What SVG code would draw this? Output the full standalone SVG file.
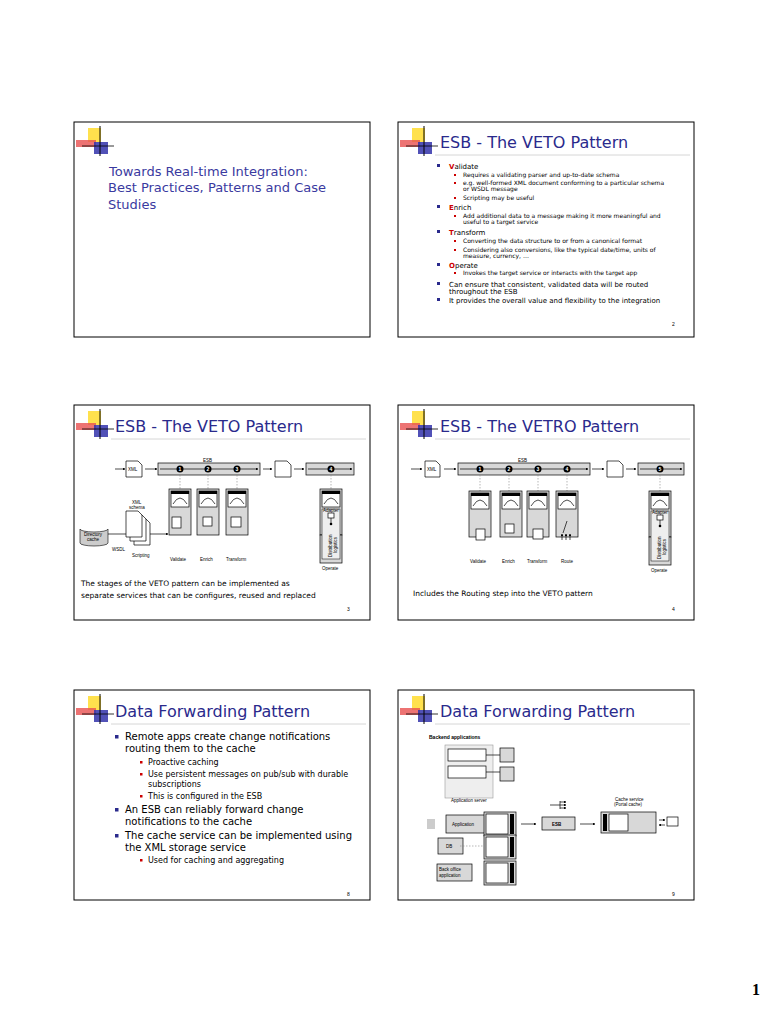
<svg xmlns="http://www.w3.org/2000/svg" width="768" height="1024" viewBox="0 0 768 1024">
<defs>
<style>
.sl{fill:#fff;stroke:#000;stroke-width:1}
.tt{font-family:"DejaVu Sans",sans-serif;font-size:16px;fill:#2a2a8c}
.t1{font-family:"DejaVu Sans",sans-serif;font-size:7px;fill:#000}
.t2{font-family:"DejaVu Sans",sans-serif;font-size:6px;fill:#000}
.b1{font-family:"DejaVu Sans",sans-serif;font-size:10px;fill:#000}
.b2{font-family:"DejaVu Sans",sans-serif;font-size:8px;fill:#000}
.sm{font-family:"Liberation Sans",sans-serif;font-size:4.5px;fill:#000}
.pn{font-family:"Liberation Sans",sans-serif;font-size:5px;fill:#000}
.nm{font-family:"Liberation Sans",sans-serif;font-size:5px;fill:#fff;font-weight:bold;text-anchor:middle}
.bx{fill:#d8d8d8;stroke:#000;stroke-width:0.7}
.wb{fill:#fff;stroke:#000;stroke-width:0.7}
.ln{stroke:#000;stroke-width:0.7;fill:none}
.dt{stroke:#888;stroke-width:0.6;stroke-dasharray:1.5 1.5}
.bu{fill:#2a2a8c}
.br{fill:#cc0000}
</style>
<g id="logo">
<rect x="14" y="6" width="13" height="14" fill="#ffe14d"/>
<rect x="2" y="18" width="20" height="7" fill="#e85050" opacity="0.8"/>
<rect x="20" y="20" width="14" height="12" fill="#3333aa" opacity="0.85"/>
<line x1="26" y1="4" x2="26" y2="34" stroke="#000" stroke-width="1"/>
<line x1="8" y1="24" x2="40" y2="24" stroke="#000" stroke-width="0.8"/>
</g>
<g id="svc">
<rect x="0" y="0" width="22" height="46" class="bx"/>
<rect x="2" y="2" width="18" height="16" class="wb"/>
<rect x="2" y="2" width="18" height="3" fill="#000"/>
<path d="M4 15 Q11 3 18 15" class="ln"/>
</g>
<g id="opx">
<use href="#svc"/>
<rect x="0" y="46" width="22" height="28" class="bx"/>
<rect x="2" y="20" width="18" height="50" fill="#eee" stroke="#000" stroke-width="0.5"/>
<rect x="8" y="24" width="6" height="5" class="wb"/>
<line x1="11" y1="29" x2="11" y2="34" class="ln"/><circle cx="11" cy="35" r="1.3"/>
<text x="3" y="23" class="sm" font-size="3">Adapter</text>
<text transform="translate(12,68) rotate(-90)" class="sm" font-size="3.5">Distribution</text>
<text transform="translate(17,64) rotate(-90)" class="sm" font-size="3.5">logistics</text>
</g>
<marker id="ar" viewBox="0 0 6 6" refX="5" refY="3" markerWidth="4" markerHeight="4" orient="auto"><path d="M0 0 L6 3 L0 6z" fill="#000"/></marker>
</defs>
<rect width="768" height="1024" fill="#fff"/>

<g id="slide1">
<rect x="74" y="122" width="296" height="215" class="sl"/>
<use href="#logo" x="74" y="122"/>
<text x="109" y="176" font-family="DejaVu Sans,sans-serif" font-size="13" fill="#3a3aa0">Towards Real-time Integration:</text>
<text x="108" y="192" font-family="DejaVu Sans,sans-serif" font-size="13" fill="#3a3aa0">Best Practices, Patterns and Case</text>
<text x="108" y="209" font-family="DejaVu Sans,sans-serif" font-size="13" fill="#3a3aa0">Studies</text>
</g>

<g id="slide2">
<rect x="398" y="122" width="296" height="215" class="sl"/>
<use href="#logo" x="398" y="122"/>
<text x="440" y="148" class="tt">ESB - The VETO Pattern</text>
<line x1="435" y1="155" x2="690" y2="155" stroke="#ccc" stroke-width="0.8"/>
<g class="t1">
<rect x="437" y="164" width="3" height="3" class="bu"/><text x="449" y="169"><tspan fill="#c00" font-weight="bold">V</tspan>alidate</text>
<rect x="437" y="205" width="3" height="3" class="bu"/><text x="449" y="210"><tspan fill="#c00" font-weight="bold">E</tspan>nrich</text>
<rect x="437" y="230" width="3" height="3" class="bu"/><text x="449" y="235"><tspan fill="#c00" font-weight="bold">T</tspan>ransform</text>
<rect x="437" y="263" width="3" height="3" class="bu"/><text x="449" y="268"><tspan fill="#c00" font-weight="bold">O</tspan>perate</text>
<rect x="437" y="282" width="3" height="3" class="bu"/><text x="449" y="287">Can ensure that consistent, validated data will be routed</text>
<text x="449" y="294">throughout the ESB</text>
<rect x="437" y="298" width="3" height="3" class="bu"/><text x="449" y="303">It provides the overall value and flexibility to the integration</text>
</g>
<g class="t2">
<rect x="454" y="174" width="2" height="2" class="br"/><text x="463" y="177">Requires a validating parser and up-to-date schema</text>
<rect x="454" y="182" width="2" height="2" class="br"/><text x="463" y="185">e.g. well-formed XML document conforming to a particular schema</text>
<text x="463" y="191">or WSDL message</text>
<rect x="454" y="197" width="2" height="2" class="br"/><text x="463" y="200">Scripting may be useful</text>
<rect x="454" y="215" width="2" height="2" class="br"/><text x="463" y="218">Add additional data to a message making it more meaningful and</text>
<text x="463" y="224">useful to a target service</text>
<rect x="454" y="240" width="2" height="2" class="br"/><text x="463" y="243">Converting the data structure to or from a canonical format</text>
<rect x="454" y="249" width="2" height="2" class="br"/><text x="463" y="252">Considering also conversions, like the typical date/time, units of</text>
<text x="463" y="258">measure, currency, …</text>
<rect x="454" y="272" width="2" height="2" class="br"/><text x="463" y="275">Invokes the target service or interacts with the target app</text>
</g>
<text x="672" y="326" class="pn">2</text>
</g>

<g id="slide3">
<rect x="74" y="405" width="296" height="215" class="sl"/>
<use href="#logo" x="74" y="405"/>
<text x="115" y="432" class="tt">ESB - The VETO Pattern</text>
<line x1="111" y1="439" x2="366" y2="439" stroke="#ccc" stroke-width="0.8"/>
<text x="203" y="462" class="sm">ESB</text>
<line x1="115" y1="469" x2="125" y2="469" class="ln" marker-end="url(#ar)"/>
<path d="M126 461 h12 l4 4 v12 h-16z" class="wb"/><text x="128" y="471" class="sm">XML</text>
<line x1="145" y1="469" x2="157" y2="469" class="ln" marker-end="url(#ar)"/>
<rect x="158" y="463" width="102" height="12" class="bx"/>
<line x1="160" y1="469" x2="258" y2="469" class="ln" marker-end="url(#ar)"/>
<circle cx="180" cy="469" r="3.5"/><circle cx="208" cy="469" r="3.5"/><circle cx="237" cy="469" r="3.5"/>
<text x="180" y="471" class="nm">1</text><text x="208" y="471" class="nm">2</text><text x="237" y="471" class="nm">3</text>
<line x1="263" y1="469" x2="272" y2="469" class="ln" marker-end="url(#ar)"/>
<path d="M275 461 h12 l4 4 v12 h-16z" class="wb"/>
<line x1="294" y1="469" x2="304" y2="469" class="ln" marker-end="url(#ar)"/>
<rect x="306" y="463" width="48" height="12" class="bx"/>
<line x1="308" y1="469" x2="352" y2="469" class="ln" marker-end="url(#ar)"/>
<circle cx="331" cy="469" r="3.5"/><text x="331" y="471" class="nm">4</text>
<line x1="180" y1="475" x2="180" y2="489" class="dt"/><line x1="208" y1="475" x2="208" y2="489" class="dt"/><line x1="237" y1="475" x2="237" y2="489" class="dt"/><line x1="331" y1="475" x2="331" y2="489" class="dt"/>
<use href="#svc" x="169" y="489"/><use href="#svc" x="197" y="489"/><use href="#svc" x="226" y="489"/>
<use href="#opx" x="320" y="489"/>
<rect x="172" y="517" width="9" height="11" class="wb"/><rect x="203" y="517" width="9" height="9" class="wb"/><rect x="231" y="517" width="10" height="10" class="wb"/>
<text x="170" y="561" class="sm">Validate</text><text x="200" y="561" class="sm">Enrich</text><text x="226" y="561" class="sm">Transform</text><text x="322" y="570" class="sm">Operate</text>
<path d="M80 529 a14 3 0 0 0 28 0 v14 a14 3 0 0 1 -28 0z" fill="#ccc" stroke="#000" stroke-width="0.6"/>
<text x="84" y="536" class="sm" font-size="4">Directory</text><text x="87" y="541" class="sm" font-size="4">cache</text>
<line x1="108" y1="534" x2="126" y2="534" class="ln"/>
<path d="M134 519 h12 l4 4 v22 h-16z" class="wb"/><path d="M130 515 h12 l4 4 v22 h-16z" class="wb"/><path d="M126 511 h12 l4 4 v22 h-16z" class="wb"/>
<line x1="150" y1="534" x2="168" y2="534" class="ln" marker-end="url(#ar)"/>
<text x="132" y="504" class="sm">XML</text><text x="129" y="509" class="sm">schema</text>
<text x="112" y="551" class="sm">WSDL</text><text x="132" y="557" class="sm">Scripting</text>
<text x="81" y="586" font-family="DejaVu Sans,sans-serif" font-size="7.5">The stages of the VETO pattern can be implemented as</text>
<text x="81" y="598" font-family="DejaVu Sans,sans-serif" font-size="7.5">separate services that can be configures, reused and replaced</text>
<text x="347" y="611" class="pn">3</text>
</g>

<g id="slide4">
<rect x="398" y="405" width="296" height="215" class="sl"/>
<use href="#logo" x="398" y="405"/>
<text x="440" y="432" class="tt">ESB - The VETRO Pattern</text>
<line x1="435" y1="439" x2="690" y2="439" stroke="#ccc" stroke-width="0.8"/>
<text x="518" y="462" class="sm">ESB</text>
<line x1="411" y1="469" x2="422" y2="469" class="ln" marker-end="url(#ar)"/>
<path d="M425 461 h11 l4 4 v12 h-15z" class="wb"/><text x="427" y="471" class="sm">XML</text>
<line x1="444" y1="469" x2="456" y2="469" class="ln" marker-end="url(#ar)"/>
<rect x="458" y="463" width="132" height="12" class="bx"/>
<line x1="460" y1="469" x2="588" y2="469" class="ln" marker-end="url(#ar)"/>
<circle cx="480" cy="469" r="3.5"/><circle cx="509" cy="469" r="3.5"/><circle cx="538" cy="469" r="3.5"/><circle cx="567" cy="469" r="3.5"/>
<text x="480" y="471" class="nm">1</text><text x="509" y="471" class="nm">2</text><text x="538" y="471" class="nm">3</text><text x="567" y="471" class="nm">4</text>
<line x1="592" y1="469" x2="604" y2="469" class="ln" marker-end="url(#ar)"/>
<path d="M607 461 h12 l4 4 v12 h-16z" class="wb"/>
<line x1="626" y1="469" x2="636" y2="469" class="ln" marker-end="url(#ar)"/>
<rect x="638" y="463" width="46" height="12" class="bx"/>
<line x1="640" y1="469" x2="682" y2="469" class="ln" marker-end="url(#ar)"/>
<circle cx="660" cy="469" r="3.5"/><text x="660" y="471" class="nm">5</text>
<line x1="480" y1="475" x2="480" y2="491" class="dt"/><line x1="509" y1="475" x2="509" y2="491" class="dt"/><line x1="538" y1="475" x2="538" y2="491" class="dt"/><line x1="567" y1="475" x2="567" y2="491" class="dt"/><line x1="660" y1="475" x2="660" y2="491" class="dt"/>
<use href="#svc" x="469" y="491"/><use href="#svc" x="500" y="491"/><use href="#svc" x="527" y="491"/><use href="#svc" x="556" y="491"/>
<use href="#opx" x="649" y="491"/>
<rect x="476" y="529" width="9" height="11" class="wb"/><rect x="505" y="524" width="9" height="9" class="wb"/><rect x="533" y="529" width="10" height="10" class="wb"/>
<line x1="567" y1="521" x2="563" y2="533" class="ln"/><line x1="562" y1="540" x2="562" y2="534" class="ln" marker-end="url(#ar)"/><line x1="566" y1="540" x2="566" y2="534" class="ln" marker-end="url(#ar)"/><line x1="570" y1="540" x2="570" y2="534" class="ln" marker-end="url(#ar)"/>
<text x="470" y="563" class="sm">Validate</text><text x="502" y="563" class="sm">Enrich</text><text x="527" y="563" class="sm">Transform</text><text x="561" y="563" class="sm">Route</text><text x="651" y="572" class="sm">Operate</text>
<text x="413" y="596" font-family="DejaVu Sans,sans-serif" font-size="7.5">Includes the Routing step into the VETO pattern</text>
<text x="672" y="611" class="pn">4</text>
</g>

<g id="slide5">
<rect x="74" y="690" width="296" height="210" class="sl"/>
<use href="#logo" x="74" y="690"/>
<text x="115" y="717" class="tt">Data Forwarding Pattern</text>
<line x1="111" y1="724" x2="366" y2="724" stroke="#ccc" stroke-width="0.8"/>
<g class="b1">
<rect x="115" y="735" width="3.5" height="3.5" class="bu"/><text x="125" y="740">Remote apps create change notifications</text>
<text x="125" y="752">routing them to the cache</text>
<rect x="115" y="808" width="3.5" height="3.5" class="bu"/><text x="125" y="813">An ESB can reliably forward change</text>
<text x="125" y="825">notifications to the cache</text>
<rect x="115" y="834" width="3.5" height="3.5" class="bu"/><text x="125" y="839">The cache service can be implemented using</text>
<text x="125" y="851">the XML storage service</text>
</g>
<g class="b2">
<rect x="140" y="761" width="2.5" height="2.5" class="br"/><text x="148" y="765">Proactive caching</text>
<rect x="140" y="773" width="2.5" height="2.5" class="br"/><text x="148" y="777">Use persistent messages on pub/sub with durable</text>
<text x="148" y="787">subscriptions</text>
<rect x="140" y="795" width="2.5" height="2.5" class="br"/><text x="148" y="799">This is configured in the ESB</text>
<rect x="140" y="859" width="2.5" height="2.5" class="br"/><text x="148" y="863">Used for caching and aggregating</text>
</g>
<text x="347" y="896" class="pn">8</text>
</g>

<g id="slide6">
<rect x="398" y="690" width="296" height="210" class="sl"/>
<use href="#logo" x="398" y="690"/>
<text x="440" y="717" class="tt">Data Forwarding Pattern</text>
<line x1="435" y1="724" x2="690" y2="724" stroke="#ccc" stroke-width="0.8"/>
<text x="429" y="739" font-family="Liberation Sans,sans-serif" font-size="5" font-weight="bold">Backend applications</text>
<rect x="445" y="745" width="48" height="53" fill="#eee" stroke="#999" stroke-width="0.6"/>
<rect x="448" y="749" width="38" height="12" class="wb"/><rect x="448" y="766" width="38" height="12" class="wb"/>
<line x1="486" y1="755" x2="500" y2="755" class="ln"/><line x1="486" y1="772" x2="500" y2="772" class="ln"/>
<rect x="500" y="748" width="14" height="14" class="bx"/><rect x="500" y="767" width="14" height="14" class="bx"/>
<text x="451" y="802" class="sm" font-size="3.5">Application server</text>
<rect x="427" y="819" width="8" height="10" fill="#ccc"/>
<rect x="446" y="815" width="40" height="18" class="bx"/><text x="452" y="826" class="sm">Application</text>
<rect x="484" y="812" width="32" height="24" class="bx"/><rect x="486" y="814" width="22" height="20" class="wb"/><rect x="510" y="814" width="4" height="20" fill="#000"/>
<line x1="521" y1="824" x2="536" y2="824" class="ln" marker-end="url(#ar)"/>
<rect x="542" y="817" width="33" height="13" class="bx"/><text x="552" y="826" class="sm" font-weight="bold">ESB</text>
<line x1="550" y1="805" x2="566" y2="805" class="ln" marker-end="url(#ar)"/><line x1="560" y1="802" x2="566" y2="802" class="ln" marker-end="url(#ar)"/><line x1="560" y1="808" x2="566" y2="808" class="ln" marker-end="url(#ar)"/><line x1="560" y1="801" x2="560" y2="809" class="ln"/>
<line x1="580" y1="824" x2="595" y2="824" class="ln" marker-end="url(#ar)"/>
<text x="615" y="801" class="sm" font-size="3.5">Cache service</text><text x="614" y="806" class="sm" font-size="3.5">(Portal cache)</text>
<rect x="601" y="812" width="55" height="21" class="bx"/><rect x="603" y="814" width="4" height="17" fill="#000"/><rect x="609" y="814" width="19" height="17" class="wb"/>
<line x1="659" y1="820" x2="665" y2="820" class="ln" marker-end="url(#ar)"/><line x1="665" y1="825" x2="659" y2="825" class="ln" marker-end="url(#ar)"/>
<rect x="667" y="817" width="11" height="9" class="wb"/>
<rect x="438" y="838" width="25" height="16" class="bx"/><text x="446" y="848" class="sm">DB</text>
<line x1="460" y1="846" x2="485" y2="846" class="dt" stroke="#000"/>
<rect x="484" y="835" width="32" height="24" class="bx"/><rect x="486" y="837" width="22" height="20" class="wb"/><rect x="510" y="837" width="4" height="20" fill="#000"/>
<rect x="437" y="864" width="35" height="17" class="bx"/><text x="439" y="871" class="sm" font-size="3.5">Back office</text><text x="439" y="877" class="sm" font-size="3.5">application</text>
<rect x="484" y="861" width="32" height="24" class="bx"/><rect x="486" y="863" width="22" height="20" class="wb"/><rect x="510" y="863" width="4" height="20" fill="#000"/>
<text x="672" y="896" class="pn">9</text>
</g>

<text x="752" y="995" font-family="Liberation Serif,serif" font-size="16" font-weight="bold">1</text>
</svg>
